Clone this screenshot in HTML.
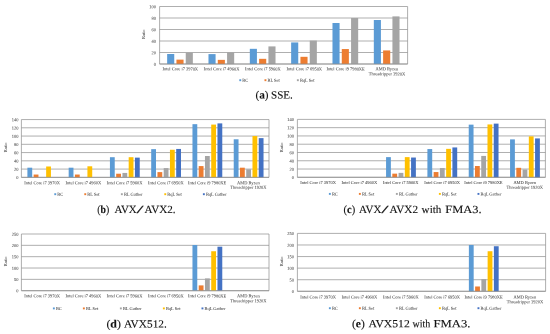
<!DOCTYPE html>
<html><head><meta charset="utf-8"><title>Figure</title>
<style>
html,body{margin:0;padding:0;background:#fff;}
svg{display:block;font-family:"Liberation Serif","DejaVu Serif",serif;}
</style></head><body>
<svg width="550" height="334" viewBox="0 0 550 334">
<rect width="550" height="334" fill="#fff"/>
<line x1="159.60" y1="64.00" x2="407.60" y2="64.00" stroke="#8c8c8c" stroke-width="0.7"/>
<text transform="matrix(1 0.0006 0 1 156.00 65.67)" font-size="4.45" text-anchor="end" fill="#444" stroke="#444" stroke-width="0.04" >0</text>
<line x1="159.60" y1="52.50" x2="407.60" y2="52.50" stroke="#8c8c8c" stroke-width="0.7"/>
<text transform="matrix(1 0.0006 0 1 156.00 54.17)" font-size="4.45" text-anchor="end" fill="#444" stroke="#444" stroke-width="0.04" >20</text>
<line x1="159.60" y1="41.00" x2="407.60" y2="41.00" stroke="#8c8c8c" stroke-width="0.7"/>
<text transform="matrix(1 0.0006 0 1 156.00 42.67)" font-size="4.45" text-anchor="end" fill="#444" stroke="#444" stroke-width="0.04" >40</text>
<line x1="159.60" y1="29.50" x2="407.60" y2="29.50" stroke="#8c8c8c" stroke-width="0.7"/>
<text transform="matrix(1 0.0006 0 1 156.00 31.17)" font-size="4.45" text-anchor="end" fill="#444" stroke="#444" stroke-width="0.04" >60</text>
<line x1="159.60" y1="18.00" x2="407.60" y2="18.00" stroke="#8c8c8c" stroke-width="0.7"/>
<text transform="matrix(1 0.0006 0 1 156.00 19.67)" font-size="4.45" text-anchor="end" fill="#444" stroke="#444" stroke-width="0.04" >80</text>
<line x1="159.60" y1="6.50" x2="407.60" y2="6.50" stroke="#8c8c8c" stroke-width="0.7"/>
<text transform="matrix(1 0.0006 0 1 156.00 8.17)" font-size="4.45" text-anchor="end" fill="#444" stroke="#444" stroke-width="0.04" >100</text>
<line x1="159.60" y1="6.50" x2="159.60" y2="64.00" stroke="#8c8c8c" stroke-width="0.7"/>
<line x1="407.60" y1="6.50" x2="407.60" y2="64.00" stroke="#8c8c8c" stroke-width="0.7"/>
<rect x="167.15" y="54.00" width="7.10" height="10.00" fill="#5B9BD5"/>
<rect x="176.45" y="59.63" width="7.10" height="4.37" fill="#ED7D31"/>
<rect x="185.75" y="52.50" width="7.10" height="11.50" fill="#A5A5A5"/>
<text transform="matrix(1 0.0006 0 1 180.27 70.37)" font-size="4.45" text-anchor="middle" fill="#444" stroke="#444" stroke-width="0.04" >Intel Core i7 3970X</text>
<rect x="208.48" y="54.11" width="7.10" height="9.89" fill="#5B9BD5"/>
<rect x="217.78" y="59.86" width="7.10" height="4.14" fill="#ED7D31"/>
<rect x="227.08" y="52.16" width="7.10" height="11.85" fill="#A5A5A5"/>
<text transform="matrix(1 0.0006 0 1 221.60 70.37)" font-size="4.45" text-anchor="middle" fill="#444" stroke="#444" stroke-width="0.04" >Intel Core i7 4960X</text>
<rect x="249.82" y="48.82" width="7.10" height="15.18" fill="#5B9BD5"/>
<rect x="259.12" y="58.83" width="7.10" height="5.17" fill="#ED7D31"/>
<rect x="268.42" y="46.41" width="7.10" height="17.59" fill="#A5A5A5"/>
<text transform="matrix(1 0.0006 0 1 262.93 70.37)" font-size="4.45" text-anchor="middle" fill="#444" stroke="#444" stroke-width="0.04" >Intel Core i7 5960X</text>
<rect x="291.15" y="42.44" width="7.10" height="21.56" fill="#5B9BD5"/>
<rect x="300.45" y="56.81" width="7.10" height="7.19" fill="#ED7D31"/>
<rect x="309.75" y="40.60" width="7.10" height="23.40" fill="#A5A5A5"/>
<text transform="matrix(1 0.0006 0 1 304.27 70.37)" font-size="4.45" text-anchor="middle" fill="#444" stroke="#444" stroke-width="0.04" >Intel Core i7 6950X</text>
<rect x="332.48" y="23.00" width="7.10" height="41.00" fill="#5B9BD5"/>
<rect x="341.78" y="49.05" width="7.10" height="14.95" fill="#ED7D31"/>
<rect x="351.08" y="18.00" width="7.10" height="46.00" fill="#A5A5A5"/>
<text transform="matrix(1 0.0006 0 1 345.60 70.37)" font-size="4.45" text-anchor="middle" fill="#444" stroke="#444" stroke-width="0.04" >Intel Core i9 7980XE</text>
<rect x="373.82" y="20.01" width="7.10" height="43.99" fill="#5B9BD5"/>
<rect x="383.12" y="50.43" width="7.10" height="13.57" fill="#ED7D31"/>
<rect x="392.42" y="16.39" width="7.10" height="47.61" fill="#A5A5A5"/>
<text transform="matrix(1 0.0006 0 1 386.93 70.37)" font-size="4.45" text-anchor="middle" fill="#444" stroke="#444" stroke-width="0.04" >AMD Ryzen</text>
<text transform="matrix(1 0.0006 0 1 386.93 75.37)" font-size="4.45" text-anchor="middle" fill="#444" stroke="#444" stroke-width="0.04" >Threadripper 1920X</text>
<line x1="159.60" y1="64.00" x2="407.60" y2="64.00" stroke="#8c8c8c" stroke-width="0.7"/>
<text transform="translate(145.07,34.25) rotate(-90)" font-size="4.45" text-anchor="middle" fill="#444" stroke="#444" stroke-width="0.04">Ratio</text>
<rect x="239.30" y="79.25" width="1.90" height="1.90" fill="#5B9BD5"/>
<text transform="matrix(1 0.0006 0 1 242.30 81.82)" font-size="4.45" text-anchor="start" fill="#444" stroke="#444" stroke-width="0.04" >RC</text>
<rect x="264.50" y="79.25" width="1.90" height="1.90" fill="#ED7D31"/>
<text transform="matrix(1 0.0006 0 1 267.50 81.82)" font-size="4.45" text-anchor="start" fill="#444" stroke="#444" stroke-width="0.04" >RL Set</text>
<rect x="296.90" y="79.25" width="1.90" height="1.90" fill="#A5A5A5"/>
<text transform="matrix(1 0.0006 0 1 299.90 81.82)" font-size="4.45" text-anchor="start" fill="#444" stroke="#444" stroke-width="0.04" >RqL Set</text>
<text transform="matrix(1 0.0006 0 1 255.50 98.50)" font-size="11" textLength="13.10" lengthAdjust="spacingAndGlyphs" fill="#111" stroke="#111" stroke-width="0.12">(<tspan font-weight="bold">a</tspan>)</text>
<text transform="matrix(1 0.0006 0 1 271.00 98.50)" font-size="11" textLength="21.90" lengthAdjust="spacingAndGlyphs" fill="#111" stroke="#111" stroke-width="0.12">SSE.</text>
<line x1="21.40" y1="177.35" x2="269.00" y2="177.35" stroke="#8c8c8c" stroke-width="0.7"/>
<text transform="matrix(1 0.0006 0 1 18.40 179.02)" font-size="4.45" text-anchor="end" fill="#444" stroke="#444" stroke-width="0.04" >0</text>
<line x1="21.40" y1="169.09" x2="269.00" y2="169.09" stroke="#8c8c8c" stroke-width="0.7"/>
<text transform="matrix(1 0.0006 0 1 18.40 170.76)" font-size="4.45" text-anchor="end" fill="#444" stroke="#444" stroke-width="0.04" >20</text>
<line x1="21.40" y1="160.84" x2="269.00" y2="160.84" stroke="#8c8c8c" stroke-width="0.7"/>
<text transform="matrix(1 0.0006 0 1 18.40 162.50)" font-size="4.45" text-anchor="end" fill="#444" stroke="#444" stroke-width="0.04" >40</text>
<line x1="21.40" y1="152.58" x2="269.00" y2="152.58" stroke="#8c8c8c" stroke-width="0.7"/>
<text transform="matrix(1 0.0006 0 1 18.40 154.25)" font-size="4.45" text-anchor="end" fill="#444" stroke="#444" stroke-width="0.04" >60</text>
<line x1="21.40" y1="144.32" x2="269.00" y2="144.32" stroke="#8c8c8c" stroke-width="0.7"/>
<text transform="matrix(1 0.0006 0 1 18.40 145.99)" font-size="4.45" text-anchor="end" fill="#444" stroke="#444" stroke-width="0.04" >80</text>
<line x1="21.40" y1="136.06" x2="269.00" y2="136.06" stroke="#8c8c8c" stroke-width="0.7"/>
<text transform="matrix(1 0.0006 0 1 18.40 137.73)" font-size="4.45" text-anchor="end" fill="#444" stroke="#444" stroke-width="0.04" >100</text>
<line x1="21.40" y1="127.81" x2="269.00" y2="127.81" stroke="#8c8c8c" stroke-width="0.7"/>
<text transform="matrix(1 0.0006 0 1 18.40 129.48)" font-size="4.45" text-anchor="end" fill="#444" stroke="#444" stroke-width="0.04" >120</text>
<line x1="21.40" y1="119.55" x2="269.00" y2="119.55" stroke="#8c8c8c" stroke-width="0.7"/>
<text transform="matrix(1 0.0006 0 1 18.40 121.22)" font-size="4.45" text-anchor="end" fill="#444" stroke="#444" stroke-width="0.04" >140</text>
<line x1="21.40" y1="119.55" x2="21.40" y2="177.35" stroke="#8c8c8c" stroke-width="0.7"/>
<line x1="269.00" y1="119.55" x2="269.00" y2="177.35" stroke="#8c8c8c" stroke-width="0.7"/>
<rect x="27.40" y="167.69" width="4.80" height="9.66" fill="#5B9BD5"/>
<rect x="33.65" y="174.54" width="4.80" height="2.81" fill="#ED7D31"/>
<rect x="46.15" y="166.49" width="4.80" height="10.86" fill="#FFC000"/>
<text transform="matrix(1 0.0006 0 1 42.03 184.17)" font-size="4.45" text-anchor="middle" fill="#444" stroke="#444" stroke-width="0.04" >Intel Core i7 3970X</text>
<rect x="68.67" y="167.69" width="4.80" height="9.66" fill="#5B9BD5"/>
<rect x="74.92" y="174.54" width="4.80" height="2.81" fill="#ED7D31"/>
<rect x="87.42" y="166.29" width="4.80" height="11.06" fill="#FFC000"/>
<text transform="matrix(1 0.0006 0 1 83.30 184.17)" font-size="4.45" text-anchor="middle" fill="#444" stroke="#444" stroke-width="0.04" >Intel Core i7 4960X</text>
<rect x="109.93" y="157.20" width="4.80" height="20.15" fill="#5B9BD5"/>
<rect x="116.18" y="173.72" width="4.80" height="3.63" fill="#ED7D31"/>
<rect x="122.43" y="172.93" width="4.80" height="4.42" fill="#A5A5A5"/>
<rect x="128.68" y="157.20" width="4.80" height="20.15" fill="#FFC000"/>
<rect x="134.93" y="157.62" width="4.80" height="19.73" fill="#4472C4"/>
<text transform="matrix(1 0.0006 0 1 124.57 184.17)" font-size="4.45" text-anchor="middle" fill="#444" stroke="#444" stroke-width="0.04" >Intel Core i7 5960X</text>
<rect x="151.20" y="149.15" width="4.80" height="28.20" fill="#5B9BD5"/>
<rect x="157.45" y="172.11" width="4.80" height="5.24" fill="#ED7D31"/>
<rect x="163.70" y="168.10" width="4.80" height="9.25" fill="#A5A5A5"/>
<rect x="169.95" y="149.77" width="4.80" height="27.58" fill="#FFC000"/>
<rect x="176.20" y="148.95" width="4.80" height="28.40" fill="#4472C4"/>
<text transform="matrix(1 0.0006 0 1 165.83 184.17)" font-size="4.45" text-anchor="middle" fill="#444" stroke="#444" stroke-width="0.04" >Intel Core i7 6950X</text>
<rect x="192.47" y="124.17" width="4.80" height="53.18" fill="#5B9BD5"/>
<rect x="198.72" y="166.08" width="4.80" height="11.27" fill="#ED7D31"/>
<rect x="204.97" y="156.01" width="4.80" height="21.34" fill="#A5A5A5"/>
<rect x="211.22" y="124.59" width="4.80" height="52.76" fill="#FFC000"/>
<rect x="217.47" y="123.39" width="4.80" height="53.96" fill="#4472C4"/>
<text transform="matrix(1 0.0006 0 1 207.10 184.17)" font-size="4.45" text-anchor="middle" fill="#444" stroke="#444" stroke-width="0.04" >Intel Core i9 7980XE</text>
<rect x="233.73" y="139.28" width="4.80" height="38.07" fill="#5B9BD5"/>
<rect x="239.98" y="167.69" width="4.80" height="9.66" fill="#ED7D31"/>
<rect x="246.23" y="169.30" width="4.80" height="8.05" fill="#A5A5A5"/>
<rect x="252.48" y="136.06" width="4.80" height="41.29" fill="#FFC000"/>
<rect x="258.73" y="138.13" width="4.80" height="39.22" fill="#4472C4"/>
<text transform="matrix(1 0.0006 0 1 248.37 184.17)" font-size="4.45" text-anchor="middle" fill="#444" stroke="#444" stroke-width="0.04" >AMD Ryzen</text>
<text transform="matrix(1 0.0006 0 1 248.37 188.77)" font-size="4.45" text-anchor="middle" fill="#444" stroke="#444" stroke-width="0.04" >Threadripper 1920X</text>
<line x1="21.40" y1="177.35" x2="269.00" y2="177.35" stroke="#8c8c8c" stroke-width="0.7"/>
<text transform="translate(7.47,147.45) rotate(-90)" font-size="4.45" text-anchor="middle" fill="#444" stroke="#444" stroke-width="0.04">Ratio</text>
<rect x="54.30" y="193.25" width="1.90" height="1.90" fill="#5B9BD5"/>
<text transform="matrix(1 0.0006 0 1 57.30 195.82)" font-size="4.45" text-anchor="start" fill="#444" stroke="#444" stroke-width="0.04" >RC</text>
<rect x="84.30" y="193.25" width="1.90" height="1.90" fill="#ED7D31"/>
<text transform="matrix(1 0.0006 0 1 87.30 195.82)" font-size="4.45" text-anchor="start" fill="#444" stroke="#444" stroke-width="0.04" >RL Set</text>
<rect x="120.90" y="193.25" width="1.90" height="1.90" fill="#A5A5A5"/>
<text transform="matrix(1 0.0006 0 1 123.90 195.82)" font-size="4.45" text-anchor="start" fill="#444" stroke="#444" stroke-width="0.04" >RL Gather</text>
<rect x="164.30" y="193.25" width="1.90" height="1.90" fill="#FFC000"/>
<text transform="matrix(1 0.0006 0 1 167.30 195.82)" font-size="4.45" text-anchor="start" fill="#444" stroke="#444" stroke-width="0.04" >RqL Set</text>
<rect x="202.90" y="193.25" width="1.90" height="1.90" fill="#4472C4"/>
<text transform="matrix(1 0.0006 0 1 205.90 195.82)" font-size="4.45" text-anchor="start" fill="#444" stroke="#444" stroke-width="0.04" >RqL Gather</text>
<text transform="matrix(1 0.0006 0 1 97.30 213.10)" font-size="11" textLength="12.00" lengthAdjust="spacingAndGlyphs" fill="#111" stroke="#111" stroke-width="0.12">(<tspan font-weight="bold">b</tspan>)</text>
<text transform="matrix(1 0.0006 0 1 114.40 213.10)" font-size="11" textLength="22.30" lengthAdjust="spacingAndGlyphs" fill="#111" stroke="#111" stroke-width="0.12">AVX</text>
<text transform="matrix(1 0.0006 0 1 136.60 213.10)" font-size="11" textLength="7.10" lengthAdjust="spacingAndGlyphs" fill="#111" stroke="#111" stroke-width="0.12">/</text>
<text transform="matrix(1 0.0006 0 1 144.60 213.10)" font-size="11" textLength="31.00" lengthAdjust="spacingAndGlyphs" fill="#111" stroke="#111" stroke-width="0.12">AVX2.</text>
<line x1="297.40" y1="177.30" x2="545.40" y2="177.30" stroke="#8c8c8c" stroke-width="0.7"/>
<text transform="matrix(1 0.0006 0 1 294.00 178.97)" font-size="4.45" text-anchor="end" fill="#444" stroke="#444" stroke-width="0.04" >0</text>
<line x1="297.40" y1="169.03" x2="545.40" y2="169.03" stroke="#8c8c8c" stroke-width="0.7"/>
<text transform="matrix(1 0.0006 0 1 294.00 170.70)" font-size="4.45" text-anchor="end" fill="#444" stroke="#444" stroke-width="0.04" >20</text>
<line x1="297.40" y1="160.76" x2="545.40" y2="160.76" stroke="#8c8c8c" stroke-width="0.7"/>
<text transform="matrix(1 0.0006 0 1 294.00 162.43)" font-size="4.45" text-anchor="end" fill="#444" stroke="#444" stroke-width="0.04" >40</text>
<line x1="297.40" y1="152.49" x2="545.40" y2="152.49" stroke="#8c8c8c" stroke-width="0.7"/>
<text transform="matrix(1 0.0006 0 1 294.00 154.15)" font-size="4.45" text-anchor="end" fill="#444" stroke="#444" stroke-width="0.04" >60</text>
<line x1="297.40" y1="144.21" x2="545.40" y2="144.21" stroke="#8c8c8c" stroke-width="0.7"/>
<text transform="matrix(1 0.0006 0 1 294.00 145.88)" font-size="4.45" text-anchor="end" fill="#444" stroke="#444" stroke-width="0.04" >80</text>
<line x1="297.40" y1="135.94" x2="545.40" y2="135.94" stroke="#8c8c8c" stroke-width="0.7"/>
<text transform="matrix(1 0.0006 0 1 294.00 137.61)" font-size="4.45" text-anchor="end" fill="#444" stroke="#444" stroke-width="0.04" >100</text>
<line x1="297.40" y1="127.67" x2="545.40" y2="127.67" stroke="#8c8c8c" stroke-width="0.7"/>
<text transform="matrix(1 0.0006 0 1 294.00 129.34)" font-size="4.45" text-anchor="end" fill="#444" stroke="#444" stroke-width="0.04" >120</text>
<line x1="297.40" y1="119.40" x2="545.40" y2="119.40" stroke="#8c8c8c" stroke-width="0.7"/>
<text transform="matrix(1 0.0006 0 1 294.00 121.07)" font-size="4.45" text-anchor="end" fill="#444" stroke="#444" stroke-width="0.04" >140</text>
<line x1="297.40" y1="119.40" x2="297.40" y2="177.30" stroke="#8c8c8c" stroke-width="0.7"/>
<line x1="545.40" y1="119.40" x2="545.40" y2="177.30" stroke="#8c8c8c" stroke-width="0.7"/>
<text transform="matrix(1 0.0006 0 1 318.07 184.07)" font-size="4.45" text-anchor="middle" fill="#444" stroke="#444" stroke-width="0.04" >Intel Core i7 3970X</text>
<text transform="matrix(1 0.0006 0 1 359.40 184.07)" font-size="4.45" text-anchor="middle" fill="#444" stroke="#444" stroke-width="0.04" >Intel Core i7 4960X</text>
<rect x="386.07" y="157.12" width="4.80" height="20.18" fill="#5B9BD5"/>
<rect x="392.32" y="173.66" width="4.80" height="3.64" fill="#ED7D31"/>
<rect x="398.57" y="172.87" width="4.80" height="4.43" fill="#A5A5A5"/>
<rect x="404.82" y="157.12" width="4.80" height="20.18" fill="#FFC000"/>
<rect x="411.07" y="157.53" width="4.80" height="19.77" fill="#4472C4"/>
<text transform="matrix(1 0.0006 0 1 400.73 184.07)" font-size="4.45" text-anchor="middle" fill="#444" stroke="#444" stroke-width="0.04" >Intel Core i7 5960X</text>
<rect x="427.40" y="149.05" width="4.80" height="28.25" fill="#5B9BD5"/>
<rect x="433.65" y="172.05" width="4.80" height="5.25" fill="#ED7D31"/>
<rect x="439.90" y="168.04" width="4.80" height="9.26" fill="#A5A5A5"/>
<rect x="446.15" y="148.85" width="4.80" height="28.45" fill="#FFC000"/>
<rect x="452.40" y="147.44" width="4.80" height="29.86" fill="#4472C4"/>
<text transform="matrix(1 0.0006 0 1 442.07 184.07)" font-size="4.45" text-anchor="middle" fill="#444" stroke="#444" stroke-width="0.04" >Intel Core i7 6950X</text>
<rect x="468.73" y="124.65" width="4.80" height="52.65" fill="#5B9BD5"/>
<rect x="474.98" y="166.01" width="4.80" height="11.29" fill="#ED7D31"/>
<rect x="481.23" y="155.92" width="4.80" height="21.38" fill="#A5A5A5"/>
<rect x="487.48" y="124.45" width="4.80" height="52.85" fill="#FFC000"/>
<rect x="493.73" y="123.62" width="4.80" height="53.68" fill="#4472C4"/>
<text transform="matrix(1 0.0006 0 1 483.40 184.07)" font-size="4.45" text-anchor="middle" fill="#444" stroke="#444" stroke-width="0.04" >Intel Core i9 7980XE</text>
<rect x="510.07" y="139.38" width="4.80" height="37.92" fill="#5B9BD5"/>
<rect x="516.32" y="167.83" width="4.80" height="9.47" fill="#ED7D31"/>
<rect x="522.57" y="169.44" width="4.80" height="7.86" fill="#A5A5A5"/>
<rect x="528.82" y="136.36" width="4.80" height="40.94" fill="#FFC000"/>
<rect x="535.07" y="138.42" width="4.80" height="38.88" fill="#4472C4"/>
<text transform="matrix(1 0.0006 0 1 524.73 184.07)" font-size="4.45" text-anchor="middle" fill="#444" stroke="#444" stroke-width="0.04" >AMD Ryzen</text>
<text transform="matrix(1 0.0006 0 1 524.73 188.67)" font-size="4.45" text-anchor="middle" fill="#444" stroke="#444" stroke-width="0.04" >Threadripper 1920X</text>
<line x1="297.40" y1="177.30" x2="545.40" y2="177.30" stroke="#8c8c8c" stroke-width="0.7"/>
<text transform="translate(282.87,147.35) rotate(-90)" font-size="4.45" text-anchor="middle" fill="#444" stroke="#444" stroke-width="0.04">Ratio</text>
<rect x="328.90" y="192.95" width="1.90" height="1.90" fill="#5B9BD5"/>
<text transform="matrix(1 0.0006 0 1 331.90 195.52)" font-size="4.45" text-anchor="start" fill="#444" stroke="#444" stroke-width="0.04" >RC</text>
<rect x="358.90" y="192.95" width="1.90" height="1.90" fill="#ED7D31"/>
<text transform="matrix(1 0.0006 0 1 361.90 195.52)" font-size="4.45" text-anchor="start" fill="#444" stroke="#444" stroke-width="0.04" >RL Set</text>
<rect x="395.90" y="192.95" width="1.90" height="1.90" fill="#A5A5A5"/>
<text transform="matrix(1 0.0006 0 1 398.90 195.52)" font-size="4.45" text-anchor="start" fill="#444" stroke="#444" stroke-width="0.04" >RL Gather</text>
<rect x="438.90" y="192.95" width="1.90" height="1.90" fill="#FFC000"/>
<text transform="matrix(1 0.0006 0 1 441.90 195.52)" font-size="4.45" text-anchor="start" fill="#444" stroke="#444" stroke-width="0.04" >RqL Set</text>
<rect x="477.50" y="192.95" width="1.90" height="1.90" fill="#4472C4"/>
<text transform="matrix(1 0.0006 0 1 480.50 195.52)" font-size="4.45" text-anchor="start" fill="#444" stroke="#444" stroke-width="0.04" >RqL Gather</text>
<text transform="matrix(1 0.0006 0 1 343.60 213.10)" font-size="11" textLength="11.70" lengthAdjust="spacingAndGlyphs" fill="#111" stroke="#111" stroke-width="0.12">(<tspan font-weight="bold">c</tspan>)</text>
<text transform="matrix(1 0.0006 0 1 359.10 213.10)" font-size="11" textLength="22.40" lengthAdjust="spacingAndGlyphs" fill="#111" stroke="#111" stroke-width="0.12">AVX</text>
<text transform="matrix(1 0.0006 0 1 381.30 213.10)" font-size="11" textLength="7.40" lengthAdjust="spacingAndGlyphs" fill="#111" stroke="#111" stroke-width="0.12">/</text>
<text transform="matrix(1 0.0006 0 1 389.60 213.10)" font-size="11" textLength="28.40" lengthAdjust="spacingAndGlyphs" fill="#111" stroke="#111" stroke-width="0.12">AVX2</text>
<text transform="matrix(1 0.0006 0 1 421.60 213.10)" font-size="11" textLength="19.80" lengthAdjust="spacingAndGlyphs" fill="#111" stroke="#111" stroke-width="0.12">with</text>
<text transform="matrix(1 0.0006 0 1 445.30 213.10)" font-size="11" textLength="36.30" lengthAdjust="spacingAndGlyphs" fill="#111" stroke="#111" stroke-width="0.12">FMA3.</text>
<line x1="21.40" y1="290.70" x2="269.00" y2="290.70" stroke="#8c8c8c" stroke-width="0.7"/>
<text transform="matrix(1 0.0006 0 1 18.40 292.37)" font-size="4.45" text-anchor="end" fill="#444" stroke="#444" stroke-width="0.04" >0</text>
<line x1="21.40" y1="279.36" x2="269.00" y2="279.36" stroke="#8c8c8c" stroke-width="0.7"/>
<text transform="matrix(1 0.0006 0 1 18.40 281.03)" font-size="4.45" text-anchor="end" fill="#444" stroke="#444" stroke-width="0.04" >50</text>
<line x1="21.40" y1="268.02" x2="269.00" y2="268.02" stroke="#8c8c8c" stroke-width="0.7"/>
<text transform="matrix(1 0.0006 0 1 18.40 269.69)" font-size="4.45" text-anchor="end" fill="#444" stroke="#444" stroke-width="0.04" >100</text>
<line x1="21.40" y1="256.68" x2="269.00" y2="256.68" stroke="#8c8c8c" stroke-width="0.7"/>
<text transform="matrix(1 0.0006 0 1 18.40 258.35)" font-size="4.45" text-anchor="end" fill="#444" stroke="#444" stroke-width="0.04" >150</text>
<line x1="21.40" y1="245.34" x2="269.00" y2="245.34" stroke="#8c8c8c" stroke-width="0.7"/>
<text transform="matrix(1 0.0006 0 1 18.40 247.01)" font-size="4.45" text-anchor="end" fill="#444" stroke="#444" stroke-width="0.04" >200</text>
<line x1="21.40" y1="234.00" x2="269.00" y2="234.00" stroke="#8c8c8c" stroke-width="0.7"/>
<text transform="matrix(1 0.0006 0 1 18.40 235.67)" font-size="4.45" text-anchor="end" fill="#444" stroke="#444" stroke-width="0.04" >250</text>
<line x1="21.40" y1="234.00" x2="21.40" y2="290.70" stroke="#8c8c8c" stroke-width="0.7"/>
<line x1="269.00" y1="234.00" x2="269.00" y2="290.70" stroke="#8c8c8c" stroke-width="0.7"/>
<text transform="matrix(1 0.0006 0 1 42.03 297.37)" font-size="4.45" text-anchor="middle" fill="#444" stroke="#444" stroke-width="0.04" >Intel Core i7 3970X</text>
<text transform="matrix(1 0.0006 0 1 83.30 297.37)" font-size="4.45" text-anchor="middle" fill="#444" stroke="#444" stroke-width="0.04" >Intel Core i7 4960X</text>
<text transform="matrix(1 0.0006 0 1 124.57 297.37)" font-size="4.45" text-anchor="middle" fill="#444" stroke="#444" stroke-width="0.04" >Intel Core i7 5960X</text>
<text transform="matrix(1 0.0006 0 1 165.83 297.37)" font-size="4.45" text-anchor="middle" fill="#444" stroke="#444" stroke-width="0.04" >Intel Core i7 6950X</text>
<rect x="192.47" y="245.00" width="4.80" height="45.70" fill="#5B9BD5"/>
<rect x="198.72" y="285.39" width="4.80" height="5.31" fill="#ED7D31"/>
<rect x="204.97" y="278.41" width="4.80" height="12.29" fill="#A5A5A5"/>
<rect x="211.22" y="251.24" width="4.80" height="39.46" fill="#FFC000"/>
<rect x="217.47" y="246.70" width="4.80" height="44.00" fill="#4472C4"/>
<text transform="matrix(1 0.0006 0 1 207.10 297.37)" font-size="4.45" text-anchor="middle" fill="#444" stroke="#444" stroke-width="0.04" >Intel Core i9 7980XE</text>
<text transform="matrix(1 0.0006 0 1 248.37 297.37)" font-size="4.45" text-anchor="middle" fill="#444" stroke="#444" stroke-width="0.04" >AMD Ryzen</text>
<text transform="matrix(1 0.0006 0 1 248.37 302.17)" font-size="4.45" text-anchor="middle" fill="#444" stroke="#444" stroke-width="0.04" >Threadripper 1920X</text>
<line x1="21.40" y1="290.70" x2="269.00" y2="290.70" stroke="#8c8c8c" stroke-width="0.7"/>
<text transform="translate(7.47,261.35) rotate(-90)" font-size="4.45" text-anchor="middle" fill="#444" stroke="#444" stroke-width="0.04">Ratio</text>
<rect x="52.90" y="307.45" width="1.90" height="1.90" fill="#5B9BD5"/>
<text transform="matrix(1 0.0006 0 1 55.90 310.02)" font-size="4.45" text-anchor="start" fill="#444" stroke="#444" stroke-width="0.04" >RC</text>
<rect x="82.90" y="307.45" width="1.90" height="1.90" fill="#ED7D31"/>
<text transform="matrix(1 0.0006 0 1 85.90 310.02)" font-size="4.45" text-anchor="start" fill="#444" stroke="#444" stroke-width="0.04" >RL Set</text>
<rect x="119.90" y="307.45" width="1.90" height="1.90" fill="#A5A5A5"/>
<text transform="matrix(1 0.0006 0 1 122.90 310.02)" font-size="4.45" text-anchor="start" fill="#444" stroke="#444" stroke-width="0.04" >RL Gather</text>
<rect x="162.90" y="307.45" width="1.90" height="1.90" fill="#FFC000"/>
<text transform="matrix(1 0.0006 0 1 165.90 310.02)" font-size="4.45" text-anchor="start" fill="#444" stroke="#444" stroke-width="0.04" >RqL Set</text>
<rect x="201.50" y="307.45" width="1.90" height="1.90" fill="#4472C4"/>
<text transform="matrix(1 0.0006 0 1 204.50 310.02)" font-size="4.45" text-anchor="start" fill="#444" stroke="#444" stroke-width="0.04" >RqL Gather</text>
<text transform="matrix(1 0.0006 0 1 106.40 327.60)" font-size="11" textLength="14.50" lengthAdjust="spacingAndGlyphs" fill="#111" stroke="#111" stroke-width="0.12">(<tspan font-weight="bold">d</tspan>)</text>
<text transform="matrix(1 0.0006 0 1 123.90 327.60)" font-size="11" textLength="42.90" lengthAdjust="spacingAndGlyphs" fill="#111" stroke="#111" stroke-width="0.12">AVX512.</text>
<line x1="297.40" y1="291.30" x2="545.60" y2="291.30" stroke="#8c8c8c" stroke-width="0.7"/>
<text transform="matrix(1 0.0006 0 1 294.00 292.97)" font-size="4.45" text-anchor="end" fill="#444" stroke="#444" stroke-width="0.04" >0</text>
<line x1="297.40" y1="279.72" x2="545.60" y2="279.72" stroke="#8c8c8c" stroke-width="0.7"/>
<text transform="matrix(1 0.0006 0 1 294.00 281.39)" font-size="4.45" text-anchor="end" fill="#444" stroke="#444" stroke-width="0.04" >50</text>
<line x1="297.40" y1="268.14" x2="545.60" y2="268.14" stroke="#8c8c8c" stroke-width="0.7"/>
<text transform="matrix(1 0.0006 0 1 294.00 269.81)" font-size="4.45" text-anchor="end" fill="#444" stroke="#444" stroke-width="0.04" >100</text>
<line x1="297.40" y1="256.56" x2="545.60" y2="256.56" stroke="#8c8c8c" stroke-width="0.7"/>
<text transform="matrix(1 0.0006 0 1 294.00 258.23)" font-size="4.45" text-anchor="end" fill="#444" stroke="#444" stroke-width="0.04" >150</text>
<line x1="297.40" y1="244.98" x2="545.60" y2="244.98" stroke="#8c8c8c" stroke-width="0.7"/>
<text transform="matrix(1 0.0006 0 1 294.00 246.65)" font-size="4.45" text-anchor="end" fill="#444" stroke="#444" stroke-width="0.04" >200</text>
<line x1="297.40" y1="233.40" x2="545.60" y2="233.40" stroke="#8c8c8c" stroke-width="0.7"/>
<text transform="matrix(1 0.0006 0 1 294.00 235.07)" font-size="4.45" text-anchor="end" fill="#444" stroke="#444" stroke-width="0.04" >250</text>
<line x1="297.40" y1="233.40" x2="297.40" y2="291.30" stroke="#8c8c8c" stroke-width="0.7"/>
<line x1="545.60" y1="233.40" x2="545.60" y2="291.30" stroke="#8c8c8c" stroke-width="0.7"/>
<text transform="matrix(1 0.0006 0 1 318.08 298.47)" font-size="4.45" text-anchor="middle" fill="#444" stroke="#444" stroke-width="0.04" >Intel Core i7 3970X</text>
<text transform="matrix(1 0.0006 0 1 359.45 298.47)" font-size="4.45" text-anchor="middle" fill="#444" stroke="#444" stroke-width="0.04" >Intel Core i7 4960X</text>
<text transform="matrix(1 0.0006 0 1 400.82 298.47)" font-size="4.45" text-anchor="middle" fill="#444" stroke="#444" stroke-width="0.04" >Intel Core i7 5960X</text>
<text transform="matrix(1 0.0006 0 1 442.18 298.47)" font-size="4.45" text-anchor="middle" fill="#444" stroke="#444" stroke-width="0.04" >Intel Core i7 6950X</text>
<rect x="468.87" y="244.98" width="4.80" height="46.32" fill="#5B9BD5"/>
<rect x="475.12" y="286.48" width="4.80" height="4.82" fill="#ED7D31"/>
<rect x="481.37" y="279.07" width="4.80" height="12.23" fill="#A5A5A5"/>
<rect x="487.62" y="251.23" width="4.80" height="40.07" fill="#FFC000"/>
<rect x="493.87" y="246.23" width="4.80" height="45.07" fill="#4472C4"/>
<text transform="matrix(1 0.0006 0 1 483.55 298.47)" font-size="4.45" text-anchor="middle" fill="#444" stroke="#444" stroke-width="0.04" >Intel Core i9 7980XE</text>
<text transform="matrix(1 0.0006 0 1 524.92 298.47)" font-size="4.45" text-anchor="middle" fill="#444" stroke="#444" stroke-width="0.04" >AMD Ryzen</text>
<text transform="matrix(1 0.0006 0 1 524.92 303.27)" font-size="4.45" text-anchor="middle" fill="#444" stroke="#444" stroke-width="0.04" >Threadripper 1920X</text>
<line x1="297.40" y1="291.30" x2="545.60" y2="291.30" stroke="#8c8c8c" stroke-width="0.7"/>
<text transform="translate(282.87,261.35) rotate(-90)" font-size="4.45" text-anchor="middle" fill="#444" stroke="#444" stroke-width="0.04">Ratio</text>
<rect x="328.90" y="307.25" width="1.90" height="1.90" fill="#5B9BD5"/>
<text transform="matrix(1 0.0006 0 1 331.90 309.82)" font-size="4.45" text-anchor="start" fill="#444" stroke="#444" stroke-width="0.04" >RC</text>
<rect x="358.90" y="307.25" width="1.90" height="1.90" fill="#ED7D31"/>
<text transform="matrix(1 0.0006 0 1 361.90 309.82)" font-size="4.45" text-anchor="start" fill="#444" stroke="#444" stroke-width="0.04" >RL Set</text>
<rect x="395.90" y="307.25" width="1.90" height="1.90" fill="#A5A5A5"/>
<text transform="matrix(1 0.0006 0 1 398.90 309.82)" font-size="4.45" text-anchor="start" fill="#444" stroke="#444" stroke-width="0.04" >RL Gather</text>
<rect x="438.90" y="307.25" width="1.90" height="1.90" fill="#FFC000"/>
<text transform="matrix(1 0.0006 0 1 441.90 309.82)" font-size="4.45" text-anchor="start" fill="#444" stroke="#444" stroke-width="0.04" >RqL Set</text>
<rect x="477.50" y="307.25" width="1.90" height="1.90" fill="#4472C4"/>
<text transform="matrix(1 0.0006 0 1 480.50 309.82)" font-size="4.45" text-anchor="start" fill="#444" stroke="#444" stroke-width="0.04" >RqL Gather</text>
<text transform="matrix(1 0.0006 0 1 352.00 327.30)" font-size="11" textLength="12.80" lengthAdjust="spacingAndGlyphs" fill="#111" stroke="#111" stroke-width="0.12">(<tspan font-weight="bold">e</tspan>)</text>
<text transform="matrix(1 0.0006 0 1 368.50 327.30)" font-size="11" textLength="41.30" lengthAdjust="spacingAndGlyphs" fill="#111" stroke="#111" stroke-width="0.12">AVX512</text>
<text transform="matrix(1 0.0006 0 1 412.50 327.30)" font-size="11" textLength="17.80" lengthAdjust="spacingAndGlyphs" fill="#111" stroke="#111" stroke-width="0.12">with</text>
<text transform="matrix(1 0.0006 0 1 433.50 327.30)" font-size="11" textLength="37.00" lengthAdjust="spacingAndGlyphs" fill="#111" stroke="#111" stroke-width="0.12">FMA3.</text>
</svg>
</body></html>
